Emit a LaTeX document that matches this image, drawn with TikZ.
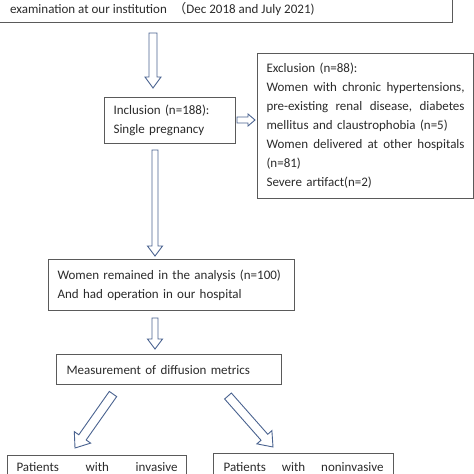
\documentclass[tikz,border=0pt]{standalone}
\usepackage{fontspec}
\setmainfont{Carlito}
\newfontfamily\cjkfont{Noto Sans CJK SC}
\usetikzlibrary{calc}
\definecolor{arrowc}{HTML}{4A6390}
\definecolor{boxc}{HTML}{5A5A5A}
\definecolor{txtc}{HTML}{2A2A2A}
\newcommand\blockarrow[6]{% tail, tip, shaft half, head half, head length, name
  \coordinate (#6-n) at ($(#2)!#5!(#1)$);
  \draw[barrow] ($(#1)!#3!90:(#2)$) -- ($(#6-n)!#3!90:(#2)$) -- ($(#6-n)!#4!90:(#2)$)
    -- (#2) -- ($(#6-n)!#4!-90:(#2)$) -- ($(#6-n)!#3!-90:(#2)$) -- ($(#1)!#3!-90:(#2)$) -- cycle;}
\begin{document}
\begin{tikzpicture}[x=1pt,y=-1pt,
  box/.style={draw=boxc, line width=1.1pt, anchor=north west, inner ysep=0pt,
    text=txtc, font=\fontsize{13}{19}\selectfont, align=left},
  barrow/.style={draw=arrowc, fill=white, line width=0.9pt, line join=miter}]
\useasboundingbox (0,0) rectangle (474,474);
% boxes
\node[box, minimum width=460, minimum height=73, anchor=south west] (top) at (-8,23) {};
\node[anchor=base west, inner sep=0pt, text=txtc, font=\fontsize{13}{19}\selectfont] (toptxt) at (10,13)
  {examination at our institution\enspace{\cjkfont （}Dec 2018 and July 2021)};
\node[box, minimum width=131, minimum height=46, inner xsep=9pt, text width=113pt] (incl) at (104,97)
  {Inclusion (n=188):\\Single pregnancy};
\node[box, minimum width=216, minimum height=145, inner xsep=9pt, text width=198pt] (excl) at (257,53)
  {Exclusion (n=88):\\
   Women\hfill with\hfill chronic\hfill hypertensions,\\
   pre-existing\hfill renal\hfill disease,\hfill diabetes\\
   mellitus and claustrophobia (n=5)\\
   Women\hfill delivered\hfill at\hfill other\hfill hospitals\\
   (n=81)\\
   Severe artifact(n=2)};
\node[box, minimum width=246, minimum height=51, inner xsep=9pt, text width=228pt] (rem) at (48,259)
  {Women remained in the analysis (n=100)\\And had operation in our hospital};
\node[box, minimum width=225, minimum height=30, inner xsep=10pt, text width=205pt] (meas) at (56,354)
  {Measurement of diffusion metrics};
\node[box, minimum width=179, minimum height=23, inner xsep=9pt, text width=161pt] (inv) at (7,455)
  {Patients\hfill with\hfill invasive};
\node[box, minimum width=180, minimum height=26, inner xsep=10pt, text width=160pt] (noninv) at (213,453)
  {Patients\hfill with\hfill noninvasive};
% arrow end points
\coordinate (a1t) at (153,33);  \coordinate (a1h) at (153,88);
\coordinate (a2t) at (237,120); \coordinate (a2h) at (255,120);
\coordinate (a3t) at (155,150); \coordinate (a3h) at (155,256);
\coordinate (a4t) at (155,318); \coordinate (a4h) at (155,349);
\coordinate (a5t) at (113,394); \coordinate (a5h) at (75,448);
\coordinate (a6t) at (228,396); \coordinate (a6h) at (273,447);
\blockarrow{a1t}{a1h}{4pt}{8pt}{11pt}{arr1}
\blockarrow{a2t}{a2h}{3pt}{6pt}{7pt}{arr2}
\blockarrow{a3t}{a3h}{3pt}{7.5pt}{10pt}{arr3}
\blockarrow{a4t}{a4h}{3pt}{7.5pt}{10pt}{arr4}
\blockarrow{a5t}{a5h}{4.5pt}{10pt}{13pt}{arr5}
\blockarrow{a6t}{a6h}{4.5pt}{10pt}{13pt}{arr6}
\end{tikzpicture}
\end{document}
